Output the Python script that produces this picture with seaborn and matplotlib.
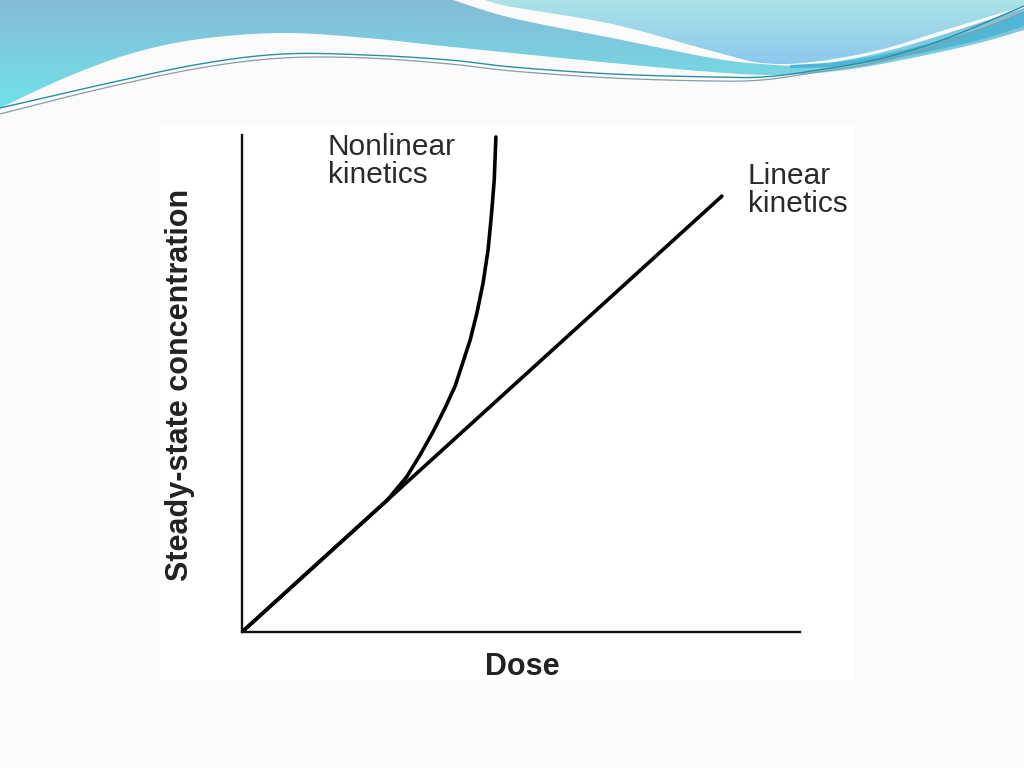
import numpy as np
import matplotlib
matplotlib.use("Agg")
import matplotlib.pyplot as plt
import seaborn as sns
from matplotlib.patches import Polygon, Rectangle
from matplotlib.colors import LinearSegmentedColormap

# ---- data (arbitrary units) ----
dose_linear = [0.0, 8.6]
conc_linear = [0.0, 8.77]
dose_nonlinear = [0.0, 1.5, 2.6, 2.95, 3.19, 3.42, 3.64, 3.82, 3.96, 4.09, 4.21,
                  4.32, 4.41, 4.47, 4.52, 4.55]
conc_nonlinear = [0.0, 1.53, 2.65, 3.12, 3.56, 4.02, 4.51, 4.95, 5.43, 5.88, 6.42,
                  7.02, 7.69, 8.39, 9.09, 9.96]
x_label = "Dose"
y_label = "Steady-state concentration"
label_nonlinear = "Nonlinear\nkinetics"
label_linear = "Linear\nkinetics"

sns.set_theme(style="white")
plt.rcParams["font.family"] = ["Liberation Sans", "DejaVu Sans"]

fig = plt.figure(figsize=(10.24, 7.68), dpi=100, facecolor="#fbfbfb")

# ---- slide decoration (background axes in pixel coordinates) ----
bg = fig.add_axes([0, 0, 1, 1], zorder=0)
bg.set_xlim(0, 1024)
bg.set_ylim(768, 0)
bg.axis("off")
bg.patch.set_alpha(0)


def catmull(pts, n=16):
    p = np.asarray(pts, dtype=float)
    p = np.vstack([p[0], p, p[-1]])
    out = []
    for i in range(1, len(p) - 2):
        p0, p1, p2, p3 = p[i - 1], p[i], p[i + 1], p[i + 2]
        for t in np.linspace(0, 1, n, endpoint=False):
            t2, t3 = t * t, t * t * t
            out.append(0.5 * ((2 * p1) + (-p0 + p2) * t + (2 * p0 - 5 * p1 + 4 * p2 - p3) * t2
                              + (-p0 + 3 * p1 - 3 * p2 + p3) * t3))
    out.append(p[-2])
    return [tuple(v) for v in out]


def gradient_patch(ax, verts, c_top, c_bot, y0, y1, z=1):
    poly = Polygon(verts, closed=True, facecolor="none", edgecolor="none")
    ax.add_patch(poly)
    cmap = LinearSegmentedColormap.from_list("g", [c_top, c_bot])
    grad = np.linspace(0, 1, 256).reshape(-1, 1)
    im = ax.imshow(grad, cmap=cmap, extent=[0, 1024, y1, y0], aspect="auto",
                   interpolation="bicubic", zorder=z)
    im.set_clip_path(poly)


# chart picture area (white)
bg.add_patch(Rectangle((160, 125), 695, 555, facecolor="white", edgecolor="none", zorder=0.5))

# left big blue wave
lower = catmull([(1024, 30), (979, 43), (912, 58), (845, 70), (779, 75), (712, 72),
                 (612, 63), (512, 53), (433, 45), (367, 38), (283, 33), (200, 39),
                 (133, 53), (67, 77), (0, 108)])
upper = [(0, 0)] + catmull([(453, 0), (512, 18), (612, 38), (712, 58), (762, 64),
                            (812, 65), (879, 53), (945, 34), (1024, 8)])
gradient_patch(bg, upper + lower, "#86bbd6", "#6fe2ea", 0, 110)

# dark blue band on the right
band_top = catmull([(790, 65), (845, 61), (912, 48), (979, 29), (1024, 12)])
band_bot = catmull([(1024, 26), (979, 40), (912, 55), (845, 66), (790, 68)])
bg.add_patch(Polygon(band_top + band_bot, closed=True, facecolor="#4fb6d6",
                     edgecolor="none", zorder=2))

# top-right light cyan wave
tr = [(1024, 0)] + catmull([(1024, 6), (945, 30), (879, 50), (812, 62), (762, 63),
                            (712, 51), (612, 24), (512, 7), (485, 0)])
gradient_patch(bg, tr, "#abe3e6", "#8bc8ee", 0, 65, z=1.5)

# thin swoosh lines
l1 = catmull([(0, 108), (100, 85), (200, 64), (283, 54), (367, 55), (450, 60), (512, 67),
              (612, 74), (712, 77), (762, 77), (812, 71), (879, 59), (945, 39), (1024, 6)])
l2 = catmull([(0, 114), (100, 89), (200, 68), (283, 58), (367, 58), (450, 64), (512, 71),
              (612, 78), (712, 81), (762, 80), (812, 73), (879, 62), (945, 43), (1024, 12)])
bg.plot(*zip(*l1), color="#2b8fa0", lw=1.0, zorder=3)
bg.plot(*zip(*l2), color="#8a9ca4", lw=0.9, zorder=3)

# ---- main chart ----
ax = fig.add_axes([242 / 1024, 1 - 632 / 768, 558 / 1024, 497 / 768], zorder=2)
ax.patch.set_alpha(0)
sns.lineplot(x=dose_linear, y=conc_linear, ax=ax, color="black", linewidth=2.6,
             sort=False, estimator=None)
sns.lineplot(x=dose_nonlinear, y=conc_nonlinear, ax=ax, color="black", linewidth=2.6,
             sort=False, estimator=None)
ax.set_xlim(0, 10)
ax.set_ylim(0, 10)
ax.set_xticks([])
ax.set_yticks([])
sns.despine(ax=ax)
for s in ("left", "bottom"):
    ax.spines[s].set_color("#111111")
    ax.spines[s].set_linewidth(1.7)

ax.set_xlabel(x_label, fontsize=22, fontweight="bold", color="#222222")
ax.set_ylabel(y_label, fontsize=22, fontweight="bold", color="#222222")
ax.xaxis.label.set_verticalalignment("center")
ax.yaxis.label.set_verticalalignment("center")
ax.xaxis.set_label_coords(0.502, -0.0704)
ax.yaxis.set_label_coords(-0.111, 0.497)

ax.text(0.154, 1.004, label_nonlinear, transform=ax.transAxes, ha="left", va="top",
        fontsize=21.5, color="#2a2a2a", linespacing=1.0)
ax.text(0.906, 0.945, label_linear, transform=ax.transAxes, ha="left", va="top",
        fontsize=21.5, color="#2a2a2a", linespacing=1.0)

fig.savefig("out.png", dpi=100, facecolor=fig.get_facecolor())
